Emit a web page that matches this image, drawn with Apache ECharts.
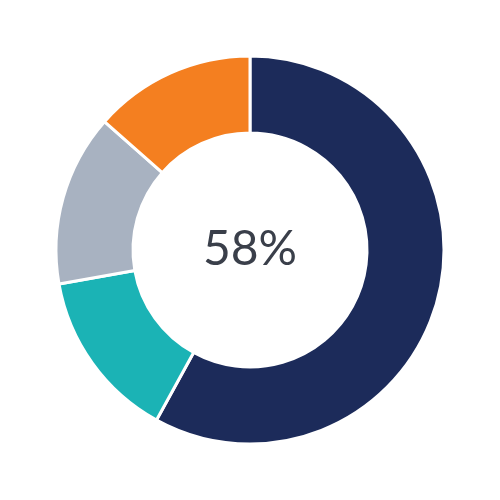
<!DOCTYPE html>
<html style="height: 100%">
<head>
    <meta charset="utf-8">
    <title>Donut</title>
    <script type="text/javascript" src="https://cdn.jsdelivr.net/npm/echarts@6/dist/echarts.min.js"></script>
</head>
<body style="height: 100%; margin: 0; background: #fff;">
<div id="container" style="width: 500px; height: 500px"></div>
<script type="text/javascript">
    // 数据
    var names = ['A', 'B', 'C', 'D'];
    var values = [58, 14.2, 14.3, 13.5];
    var colors = ['#1c2b5a', '#1bb3b5', '#a8b2c1', '#f47f20'];
    var centerLabel = '58%';

    var myChart = echarts.init(document.getElementById('container'));
    var pieData = [];
    for (var i = 0; i < values.length; i++) {
        pieData.push({ name: names[i], value: values[i], itemStyle: { color: colors[i] } });
    }
    var option = {
        animation: false,
        title: {
            text: centerLabel,
            left: 'center',
            top: 'middle',
            textStyle: {
                fontFamily: 'Lato',
                fontWeight: 'normal',
                fontSize: 48,
                color: '#3a3f4a'
            }
        },
        series: [{
            type: 'pie',
            center: [250, 250],
            radius: [117, 194],
            startAngle: 90,
            clockwise: true,
            label: { show: false },
            labelLine: { show: false },
            itemStyle: { borderColor: '#fff', borderWidth: 3 },
            data: pieData
        }]
    };
    myChart.setOption(option, true);
</script>
</body>
</html>
